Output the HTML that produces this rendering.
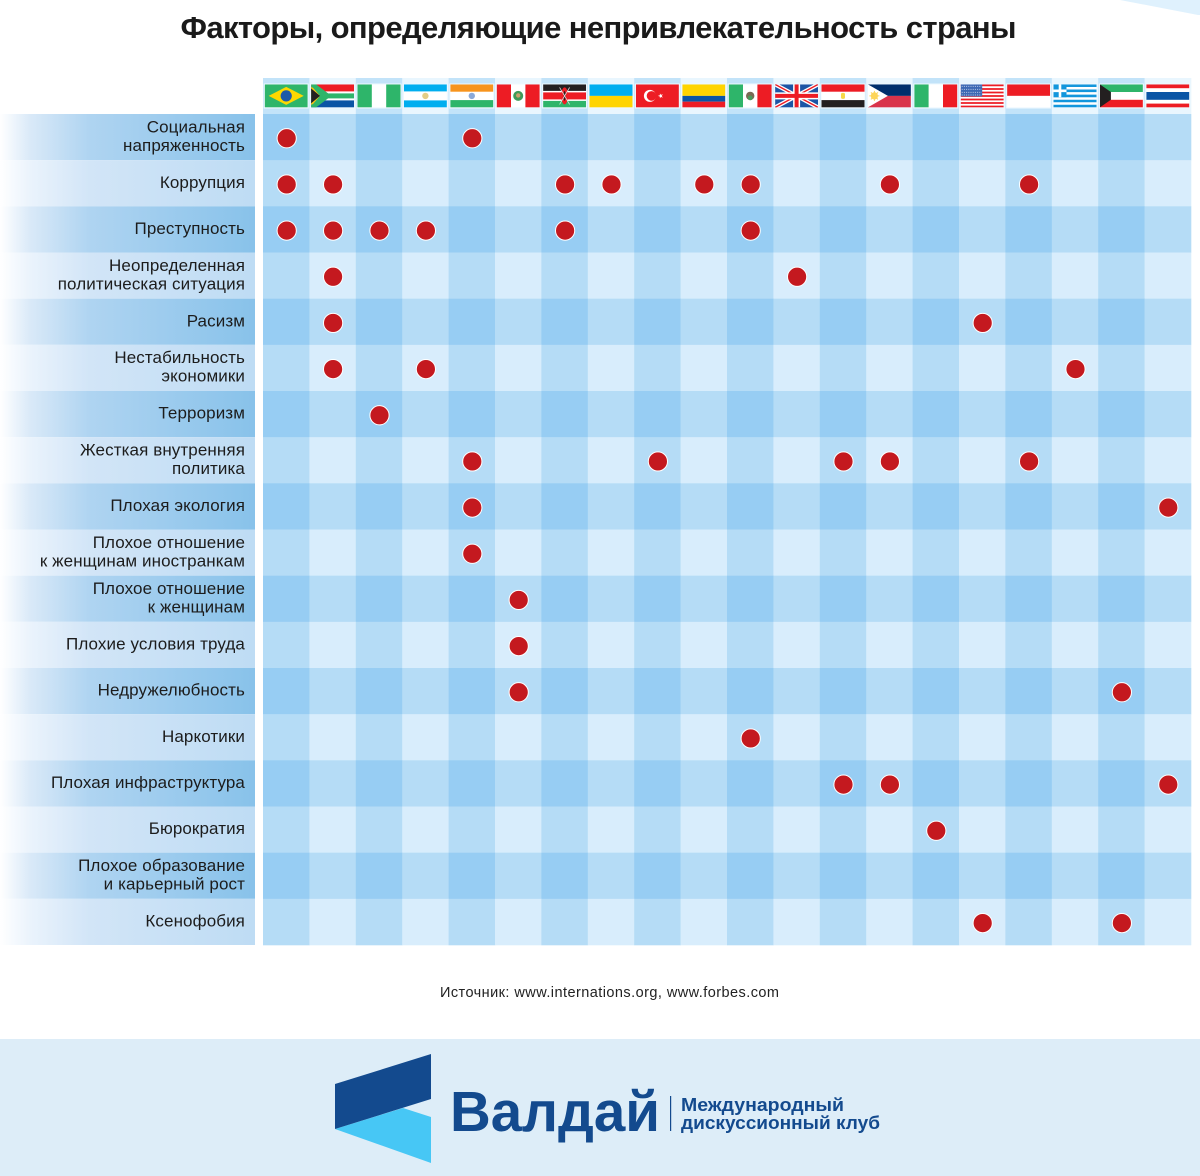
<!DOCTYPE html>
<html lang="ru">
<head>
<meta charset="utf-8">
<title>Факторы, определяющие непривлекательность страны</title>
<style>
html,body{margin:0;padding:0;background:#fff;width:1200px;height:1176px;overflow:hidden}
svg{display:block}
text{font-family:"Liberation Sans","DejaVu Sans",sans-serif}
.lbl{font-size:17px;fill:#1c1c1c;text-anchor:end;letter-spacing:.1px}
</style>
</head>
<body>
<svg id="chart" width="1200" height="1176" viewBox="0 0 1200 1176" xmlns="http://www.w3.org/2000/svg">
<defs>
<linearGradient id="gradDark" x1="0" x2="1" y1="0" y2="0">
<stop offset="0" stop-color="#fff"/><stop offset=".12" stop-color="#d9e9f8"/><stop offset=".35" stop-color="#afd4f1"/><stop offset="1" stop-color="#88c2ea"/>
</linearGradient>
<linearGradient id="gradLight" x1="0" x2="1" y1="0" y2="0">
<stop offset="0" stop-color="#fff"/><stop offset=".12" stop-color="#eaf3fc"/><stop offset=".35" stop-color="#d2e5f7"/><stop offset="1" stop-color="#bedcf4"/>
</linearGradient>
</defs>
<polygon points="1120,0 1198,15 1200,15 1200,0" fill="#dff1fd"/>
<text x="598.5" y="38" text-anchor="middle" font-size="31" font-weight="700" fill="#1a1a1a" textLength="836" lengthAdjust="spacing">Факторы, определяющие непривлекательность страны</text>
<g id="grid"></g>
<g id="flags"></g>
<g id="labels"></g>
<g id="dots"></g>
<text x="609.5" y="997" text-anchor="middle" font-size="14.5" fill="#222" textLength="339" lengthAdjust="spacing">Источник: www.internations.org, www.forbes.com</text>
<g>
<rect x="0" y="1039" width="1200" height="137" fill="#ddedf8"/>
<polygon points="335,1129 403,1108 431,1117 431,1163" fill="#47c7f5"/>
<polygon points="335,1084 431,1054 431,1099 335,1129" fill="#134a8e"/>
<text x="450" y="1131" font-size="57" font-weight="700" fill="#134a8e" textLength="210" lengthAdjust="spacingAndGlyphs">Валдай</text>
<rect x="670" y="1096" width="1.2" height="35" fill="#134a8e"/>
<text x="681" y="1111" font-size="18" font-weight="700" fill="#134a8e" textLength="163" lengthAdjust="spacingAndGlyphs">Международный</text>
<text x="681" y="1129" font-size="18" font-weight="700" fill="#134a8e" textLength="199" lengthAdjust="spacingAndGlyphs">дискуссионный клуб</text>
</g>
</svg>
<script>
const countries = ["Бразилия","ЮАР","Нигерия","Аргентина","Индия","Перу","Кения","Украина","Турция","Колумбия","Мексика","Великобритания","Египет","Филиппины","Италия","США","Индонезия","Греция","Кувейт","Таиланд"];
const factors = [
  ["Социальная","напряженность"],
  ["Коррупция"],
  ["Преступность"],
  ["Неопределенная","политическая ситуация"],
  ["Расизм"],
  ["Нестабильность","экономики"],
  ["Терроризм"],
  ["Жесткая внутренняя","политика"],
  ["Плохая экология"],
  ["Плохое отношение","к женщинам иностранкам"],
  ["Плохое отношение","к женщинам"],
  ["Плохие условия труда"],
  ["Недружелюбность"],
  ["Наркотики"],
  ["Плохая инфраструктура"],
  ["Бюрократия"],
  ["Плохое образование","и карьерный рост"],
  ["Ксенофобия"]
];
const marks = [
  ["Бразилия","Индия"],
  ["Бразилия","ЮАР","Кения","Украина","Колумбия","Мексика","Филиппины","Индонезия"],
  ["Бразилия","ЮАР","Нигерия","Аргентина","Кения","Мексика"],
  ["ЮАР","Великобритания"],
  ["ЮАР","США"],
  ["ЮАР","Аргентина","Греция"],
  ["Нигерия"],
  ["Индия","Турция","Египет","Филиппины","Индонезия"],
  ["Индия","Таиланд"],
  ["Индия"],
  ["Перу"],
  ["Перу"],
  ["Перу","Кувейт"],
  ["Мексика"],
  ["Египет","Филиппины","Таиланд"],
  ["Италия"],
  [],
  ["США","Кувейт"]
];

const NS = "http://www.w3.org/2000/svg";
const GRID_LEFT = 263, GRID_RIGHT = 1191, GRID_TOP = 114, GRID_BOTTOM = 945, HEADER_TOP = 78;
const colW = (GRID_RIGHT - GRID_LEFT) / countries.length;
const rowH = (GRID_BOTTOM - GRID_TOP) / factors.length;
const xScale = i => GRID_LEFT + colW * i;
const yScale = i => GRID_TOP + rowH * i;
const CELL_COLORS = ["#97cdf3", "#b5dcf6", "#d8edfc"];

const FLAGS = {
"Бразилия":'<rect width="43" height="23" fill="#2eb56a"/><polygon points="21.5,2.5 39,11.5 21.5,20.5 4,11.5" fill="#fdd800"/><circle cx="21.5" cy="11.5" r="5.6" fill="#1e5aa8"/>',
"ЮАР":'<rect width="43" height="23" fill="#fff"/><rect width="43" height="7" fill="#ed1c24"/><rect y="16" width="43" height="7" fill="#0a55a5"/><rect y="9" x="12" width="31" height="5" fill="#2eb56a"/><polygon points="0,0 5,0 17,9 12,11.5 17,14 5,23 0,23" fill="#2eb56a"/><polygon points="0,4 9,11.5 0,19" fill="#231f20"/><polygon points="0,2.5 2,3.5 9,11.5 2,19.5 0,20.5 0,19 9,11.5 0,4" fill="#fdc010"/>',
"Нигерия":'<rect width="43" height="23" fill="#fff"/><rect width="14.3" height="23" fill="#2eb56a"/><rect x="28.7" width="14.3" height="23" fill="#2eb56a"/>',
"Аргентина":'<rect width="43" height="23" fill="#fff"/><rect width="43" height="7" fill="#00aeef"/><rect y="16" width="43" height="7" fill="#00aeef"/><circle cx="21.5" cy="11.5" r="3.2" fill="#e3cd86"/>',
"Индия":'<rect width="43" height="23" fill="#fff"/><rect width="43" height="7.3" fill="#f7941d"/><rect y="15.7" width="43" height="7.3" fill="#2eb56a"/><circle cx="21.5" cy="11.5" r="3.2" fill="#8ba9d8"/>',
"Перу":'<rect width="43" height="23" fill="#fff"/><rect width="14.3" height="23" fill="#ed1c24"/><rect x="28.7" width="14.3" height="23" fill="#ed1c24"/><circle cx="21.5" cy="11.5" r="5" fill="#3f9a58"/><circle cx="21.5" cy="11" r="2.2" fill="#c9a06a"/>',
"Кения":'<rect width="43" height="23" fill="#fff"/><rect width="43" height="6.5" fill="#231f20"/><rect y="8" width="43" height="7" fill="#ed1c24"/><rect y="16.5" width="43" height="6.5" fill="#2eb56a"/><ellipse cx="21.5" cy="11.5" rx="3.4" ry="8.5" fill="#ed1c24"/><ellipse cx="21.5" cy="11.5" rx="1" ry="5" fill="#231f20"/><path d="M16.5 3 L26.5 20 M26.5 3 L16.5 20" stroke="#ddd" stroke-width=".8"/>',
"Украина":'<rect width="43" height="11.5" fill="#00aeef"/><rect y="11.5" width="43" height="11.5" fill="#ffd400"/>',
"Турция":'<rect width="43" height="23" fill="#ed1c24"/><circle cx="14" cy="11.5" r="6" fill="#fff"/><circle cx="15.6" cy="11.5" r="4.8" fill="#ed1c24"/><polygon points="22,11.5 27,9.8 24,14 24,9 27,13.2" fill="#fff"/>',
"Колумбия":'<rect width="43" height="11.5" fill="#ffd400"/><rect y="11.5" width="43" height="5.75" fill="#0a55a5"/><rect y="17.25" width="43" height="5.75" fill="#ed1c24"/>',
"Мексика":'<rect width="43" height="23" fill="#fff"/><rect width="14.3" height="23" fill="#2eb56a"/><rect x="28.7" width="14.3" height="23" fill="#ed1c24"/><circle cx="21.5" cy="11.5" r="4.2" fill="#7a6a55"/><circle cx="21.5" cy="13.5" r="2.4" fill="#4a9a5c"/>',
"Великобритания":'<rect width="43" height="23" fill="#1c55a5"/><path d="M0 0 L43 23 M43 0 L0 23" stroke="#fff" stroke-width="4"/><path d="M0 0 L43 23 M43 0 L0 23" stroke="#ed1c24" stroke-width="1.4"/><path d="M21.5 0 V23 M0 11.5 H43" stroke="#fff" stroke-width="7"/><path d="M21.5 0 V23 M0 11.5 H43" stroke="#ed1c24" stroke-width="4"/>',
"Египет":'<rect width="43" height="23" fill="#fff"/><rect width="43" height="7.3" fill="#ed1c24"/><rect y="15.7" width="43" height="7.3" fill="#231f20"/><rect x="19.5" y="8.5" width="4" height="6" rx="1.5" fill="#f5d94a"/>',
"Филиппины":'<rect width="43" height="11.5" fill="#002f6c"/><rect y="11.5" width="43" height="11.5" fill="#d9344b"/><polygon points="0,0 20,11.5 0,23" fill="#fff"/><circle cx="6.5" cy="11.5" r="3.6" fill="#fdd55a"/><path d="M1.5 11.5 H11.5 M6.5 6.5 V16.5 M3 8 L10 15 M10 8 L3 15" stroke="#fdd55a" stroke-width="1"/>',
"Италия":'<rect width="43" height="23" fill="#fff"/><rect width="14.3" height="23" fill="#2eb56a"/><rect x="28.7" width="14.3" height="23" fill="#ed1c24"/>',
"США":'<rect width="43" height="23" fill="#fff"/><path d="M0 1 H43 M0 4.6 H43 M0 8.1 H43 M0 11.6 H43 M0 15.1 H43 M0 18.6 H43 M0 22.1 H43" stroke="#ed1c24" stroke-width="1.8"/><rect width="21.5" height="12" fill="#3d69b4"/><path d="M1 2 H21 M1 5 H21 M1 8 H21 M1 10.6 H21" stroke="#b9c9e6" stroke-width="1" stroke-dasharray="1 1.2"/>',
"Индонезия":'<rect width="43" height="11.5" fill="#ed1c24"/><rect y="11.5" width="43" height="11.5" fill="#fff"/>',
"Греция":'<rect width="43" height="23" fill="#fff"/><path d="M0 1.3 H43 M0 6.4 H43 M0 11.5 H43 M0 16.6 H43 M0 21.7 H43" stroke="#1396dc" stroke-width="2.6"/><rect width="13" height="12.8" fill="#1396dc"/><path d="M6.5 0 V12.8 M0 6.4 H13" stroke="#fff" stroke-width="2.6"/>',
"Кувейт":'<rect width="43" height="23" fill="#fff"/><rect width="43" height="7.6" fill="#2eb56a"/><rect y="15.4" width="43" height="7.6" fill="#ed1c24"/><polygon points="0,0 11,7.6 11,15.4 0,23" fill="#231f20"/>',
"Таиланд":'<rect width="43" height="23" fill="#fff"/><rect width="43" height="3.8" fill="#ed1c24"/><rect y="19.2" width="43" height="3.8" fill="#ed1c24"/><rect y="7.6" width="43" height="7.8" fill="#0a55a5"/>'
};

const gridG = document.getElementById("grid");
const flagsG = document.getElementById("flags");
const labelsG = document.getElementById("labels");
const dotsG = document.getElementById("dots");

countries.forEach((name, c) => {
  const head = document.createElementNS(NS, "rect");
  
  
  head.setAttribute("x", xScale(c));
  head.setAttribute("y", HEADER_TOP);
  head.setAttribute("width", colW + 0.3);
  head.setAttribute("height", GRID_TOP - HEADER_TOP);
  head.setAttribute("fill", c % 2 ? "#e9f6fe" : "#c2e3f9");
  gridG.appendChild(head);

  const border = document.createElementNS(NS, "rect");
  
  
  border.setAttribute("x", xScale(c) + colW / 2 - 22.5);
  border.setAttribute("y", 83.5);
  border.setAttribute("width", 45);
  border.setAttribute("height", 25);
  border.setAttribute("fill", "#eef8ff");
  flagsG.appendChild(border);

  const flag = document.createElementNS(NS, "svg");
  
  
  flag.setAttribute("x", xScale(c) + colW / 2 - 21.5);
  flag.setAttribute("y", 84.4);
  flag.setAttribute("width", 43);
  flag.setAttribute("height", 23);
  flag.setAttribute("viewBox", "0 0 43 23");
  flag.innerHTML = "<title>" + name + "</title>" + FLAGS[name];
  flagsG.appendChild(flag);
});

factors.forEach((lines, r) => {
  const bar = document.createElementNS(NS, "rect");
  
  
  bar.setAttribute("x", 0);
  bar.setAttribute("y", yScale(r));
  bar.setAttribute("width", 255);
  bar.setAttribute("height", rowH);
  bar.setAttribute("fill", r % 2 ? "url(#gradLight)" : "url(#gradDark)");
  labelsG.appendChild(bar);

  const cy = yScale(r) + rowH / 2;
  lines.forEach((line, k) => {
    const t = document.createElementNS(NS, "text");
    
    
    t.setAttribute("class", "lbl");
    t.setAttribute("x", 245);
    t.setAttribute("y", cy + 5.5 + (k - (lines.length - 1) / 2) * 18.5 - 1);
    t.textContent = line;
    labelsG.appendChild(t);
  });

  countries.forEach((name, c) => {
    const cell = document.createElementNS(NS, "rect");
    
    
    cell.setAttribute("x", xScale(c));
    cell.setAttribute("y", yScale(r));
    cell.setAttribute("width", colW + 0.3);
    cell.setAttribute("height", rowH + 0.3);
    cell.setAttribute("fill", CELL_COLORS[(c % 2) + (r % 2)]);
    gridG.appendChild(cell);
  });

  marks[r].forEach(name => {
    const c = countries.indexOf(name);
    const dot = document.createElementNS(NS, "circle");
    
    
    dot.setAttribute("cx", xScale(c) + colW / 2 + 0.5);
    dot.setAttribute("cy", cy + 1.2);
    dot.setAttribute("r", 9.6);
    dot.setAttribute("fill", "#c4191f");
    dot.setAttribute("stroke", "#fff");
    dot.setAttribute("stroke-width", 1);
    dotsG.appendChild(dot);
  });
});
</script>
</body>
</html>
